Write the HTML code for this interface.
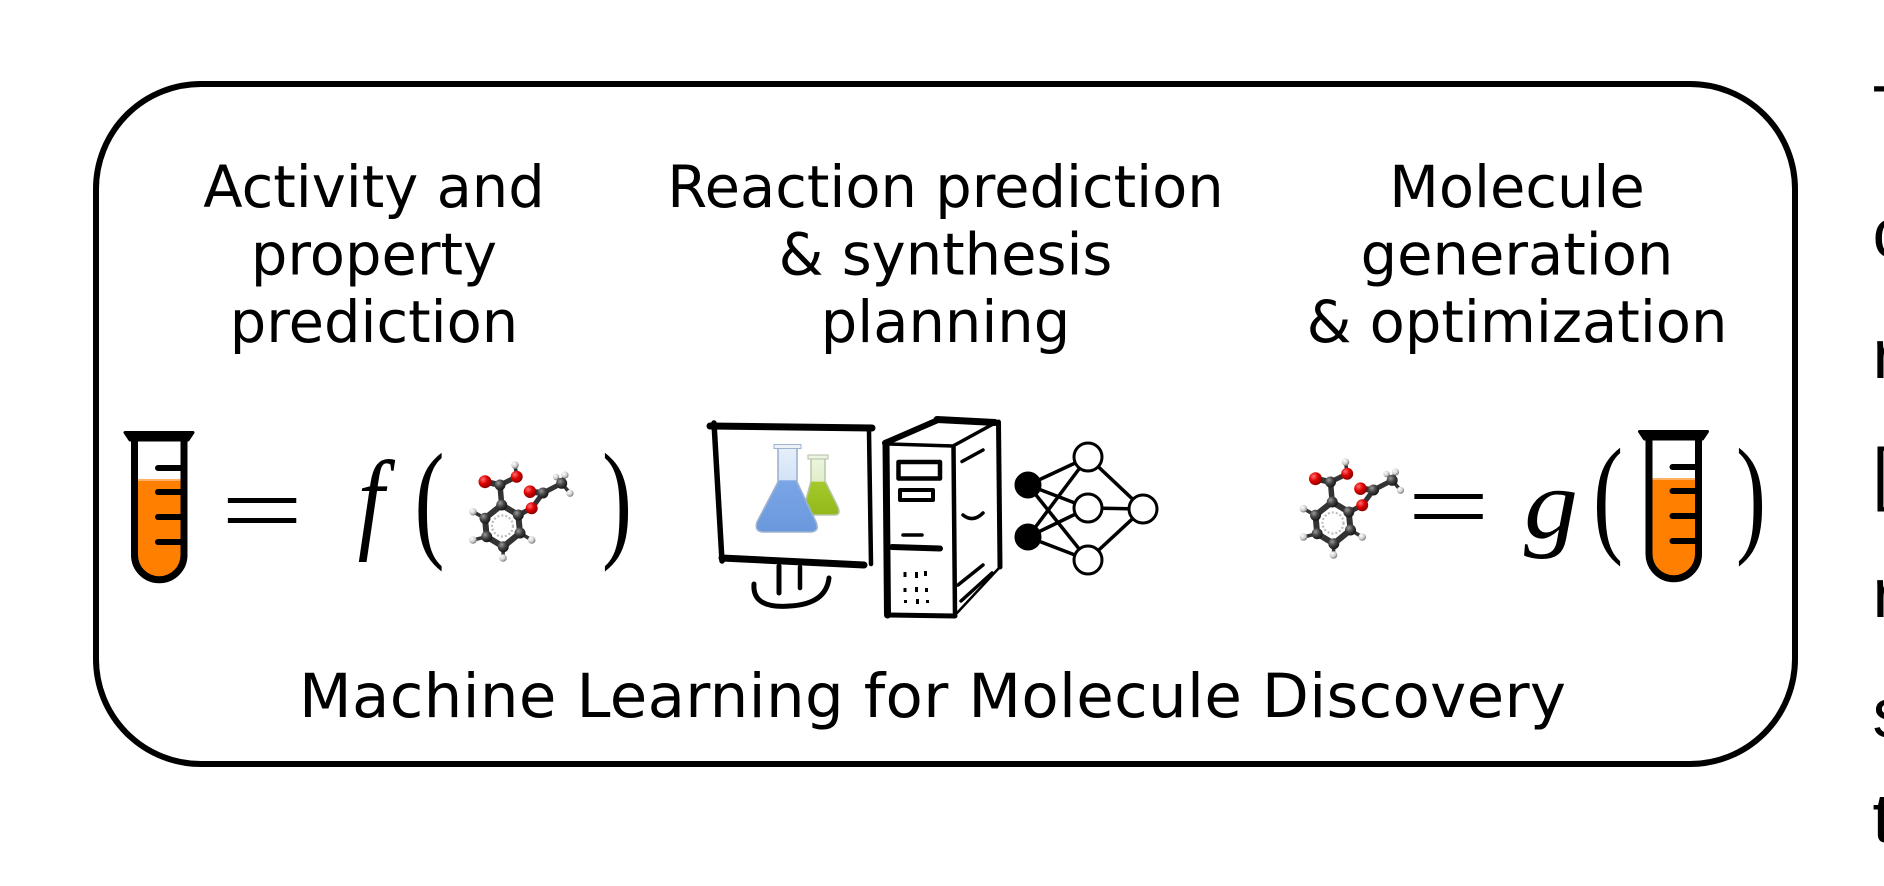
<!DOCTYPE html>
<html><head><meta charset="utf-8"><style>
html,body{margin:0;padding:0;background:#fff;width:1884px;height:886px;overflow:hidden}
svg{display:block}
.t{font-family:"DejaVu Sans","Liberation Sans",sans-serif;fill:#000}
.m{font-family:"Liberation Serif",serif;fill:#000}
.r{font-family:"Liberation Sans",sans-serif;fill:#000;font-size:70px}
</style></head><body>
<svg width="1884" height="886" viewBox="0 0 1884 886" xmlns="http://www.w3.org/2000/svg">
<defs>
<radialGradient id="gc" cx="35%" cy="32%" r="70%"><stop offset="0" stop-color="#9a9a9a"/><stop offset="0.5" stop-color="#444"/><stop offset="1" stop-color="#151515"/></radialGradient>
<radialGradient id="go" cx="35%" cy="32%" r="70%"><stop offset="0" stop-color="#ff7070"/><stop offset="0.5" stop-color="#e00000"/><stop offset="1" stop-color="#8a0000"/></radialGradient>
<radialGradient id="gh" cx="35%" cy="32%" r="70%"><stop offset="0" stop-color="#ffffff"/><stop offset="0.6" stop-color="#d0d0d0"/><stop offset="1" stop-color="#7a7a7a"/></radialGradient>
<linearGradient id="fb" x1="0" y1="0" x2="0" y2="1"><stop offset="0" stop-color="#e6eff9"/><stop offset="0.38" stop-color="#d3e3f6"/><stop offset="0.39" stop-color="#7aa6e8"/><stop offset="1" stop-color="#6b97dc"/></linearGradient>
<linearGradient id="fg" x1="0" y1="0" x2="0" y2="1"><stop offset="0" stop-color="#eef5e0"/><stop offset="0.41" stop-color="#e0edc8"/><stop offset="0.42" stop-color="#a5c92a"/><stop offset="1" stop-color="#92b81a"/></linearGradient>
</defs>
<rect width="1884" height="886" fill="#fff"/>

<!-- main rounded box -->
<rect x="96" y="84" width="1699" height="680" rx="105" ry="105" fill="none" stroke="#000" stroke-width="6"/>

<!-- titles -->
<g class="t" font-size="57.5" text-anchor="middle">
<text x="374" y="207">Activity and</text>
<text x="374" y="274.5">property</text>
<text x="374" y="342">prediction</text>
<text x="945.5" y="207">Reaction prediction</text>
<text x="945.5" y="274.5">&amp; synthesis</text>
<text x="945.5" y="342">planning</text>
<text x="1517" y="207">Molecule</text>
<text x="1517" y="274.5">generation</text>
<text x="1517" y="342">&amp; optimization</text>
</g>
<text class="t" x="299" y="717" font-size="61" textLength="1267" lengthAdjust="spacing">Machine Learning for Molecule Discovery</text>

<!-- test tube (left) -->
<g id="tube">
<path d="M134.5 440 L184 440 L184 555 A24.75 24.75 0 0 1 134.5 555 Z" fill="#fff"/>
<path d="M134.5 479 L184 479 L184 555 A24.75 24.75 0 0 1 134.5 555 Z" fill="#ff8000"/>
<line x1="138" y1="480" x2="181" y2="480" stroke="#ffb266" stroke-width="2"/>
<g stroke="#000" stroke-width="6" stroke-linecap="round">
<line x1="158" y1="468" x2="182" y2="468"/>
<line x1="158" y1="492" x2="182" y2="492"/>
<line x1="158" y1="517" x2="182" y2="517"/>
<line x1="158" y1="542" x2="182" y2="542"/>
</g>
<path d="M134.5 438 L134.5 555 A24.75 24.75 0 0 0 184 555 L184 438" fill="none" stroke="#000" stroke-width="7" stroke-linejoin="round"/>
<path d="M125 432.5 L193 432.5 L188 440 L130 440 Z" fill="#000" stroke="#000" stroke-width="3" stroke-linejoin="round"/>
</g>

<!-- left formula -->
<text class="m" transform="translate(262,543.7) scale(1.47,1)" font-size="100" text-anchor="middle">=</text>
<text class="m" transform="translate(371,538) scale(0.85,1)" font-size="112" font-style="italic" text-anchor="middle">f</text>
<text class="m" transform="translate(429.5,543.6) scale(0.9,1.31)" font-size="100" text-anchor="middle">(</text>
<text class="m" transform="translate(617,543.6) scale(0.9,1.31)" font-size="100" text-anchor="middle">)</text>

<!-- molecule (left) -->
<g id="mol">
<g stroke="#333" stroke-linecap="round" fill="none">
<line x1="500" y1="485" x2="516.7" y2="476.7" stroke-width="5"/>
<line x1="500" y1="485" x2="485" y2="481.7" stroke-width="6"/>
<line x1="516.7" y1="476.7" x2="515" y2="465" stroke-width="3.5"/>
<line x1="500" y1="485" x2="501.7" y2="505" stroke-width="5.5"/>
<polygon points="501.7,505 518.3,515 520,533 503.3,546.7 486.7,536.7 485,518.3" stroke-width="6" stroke-linejoin="round"/>
<line x1="518.3" y1="515" x2="531.7" y2="508.3" stroke-width="5"/>
<line x1="531.7" y1="508.3" x2="543" y2="493" stroke-width="5"/>
<line x1="543" y1="493" x2="530" y2="491.7" stroke-width="6"/>
<line x1="543" y1="493" x2="561.7" y2="483.3" stroke-width="5"/>
<line x1="561.7" y1="483.3" x2="565" y2="475" stroke-width="3.5"/>
<line x1="561.7" y1="483.3" x2="570" y2="493.3" stroke-width="3.5"/>
<line x1="561.7" y1="483.3" x2="556" y2="477" stroke-width="3.5"/>
<line x1="485" y1="518.3" x2="473" y2="511.7" stroke-width="3.5"/>
<line x1="486.7" y1="536.7" x2="473" y2="540" stroke-width="3.5"/>
<line x1="503.3" y1="546.7" x2="503" y2="558" stroke-width="3.5"/>
<line x1="520" y1="533" x2="531.7" y2="540" stroke-width="3.5"/>
</g>
<circle cx="502.5" cy="526" r="10.5" fill="none" stroke="#bdbdbd" stroke-width="2.2" stroke-dasharray="2 2"/>
<g fill="url(#gh)">
<circle cx="515" cy="465" r="3.8"/>
<circle cx="473" cy="511.7" r="3.8"/>
<circle cx="473" cy="540" r="3.8"/>
<circle cx="503" cy="558" r="3.8"/>
<circle cx="531.7" cy="540" r="3.8"/>
<circle cx="565" cy="475" r="3.6"/>
<circle cx="570" cy="493.3" r="3.6"/>
<circle cx="556" cy="477" r="3.2"/>
</g>
<g fill="url(#gc)">
<circle cx="500" cy="485" r="5.5"/>
<circle cx="501.7" cy="505" r="5.5"/>
<circle cx="518.3" cy="515" r="5.5"/>
<circle cx="520" cy="533" r="5.5"/>
<circle cx="503.3" cy="546.7" r="5.5"/>
<circle cx="486.7" cy="536.7" r="5.5"/>
<circle cx="485" cy="518.3" r="5.5"/>
<circle cx="543" cy="493" r="5.5"/>
<circle cx="561.7" cy="483.3" r="5.5"/>
</g>
<g fill="url(#go)">
<circle cx="516.7" cy="476.7" r="6"/>
<circle cx="485" cy="481.7" r="6.5"/>
<circle cx="531.7" cy="508.3" r="6"/>
<circle cx="530" cy="491.7" r="6.3"/>
</g>
</g>

<!-- monitor -->
<g stroke="#000" fill="none" stroke-linecap="round" stroke-linejoin="round">
<path d="M710 426 L872 428" stroke-width="7"/>
<path d="M714 423 L722 561" stroke-width="5.5"/>
<path d="M722 558 L864 565" stroke-width="7"/>
<path d="M869 431 L871 564" stroke-width="4.5"/>
<path d="M779 566 L779 593" stroke-width="5"/>
<path d="M800 567 L800 588" stroke-width="4.5"/>
<path d="M754 584 Q 752 609 790 606 Q 826 604 829 578" stroke-width="5"/>
</g>
<!-- flasks -->
<path d="M811 458 L811 481 L804 507 Q 802 515 809 515 L835 515 Q 841 515 838 507 L825 481 L825 458 Z" fill="url(#fg)" stroke="#b7c7a8" stroke-width="1.5"/>
<rect x="808" y="455" width="20" height="4" fill="#eef3e6" stroke="#b0bfa0" stroke-width="1"/>
<path d="M778 448 L778 482 L757 522 Q 754 532 764 532 L810 532 Q 820 532 816 522 L797 482 L797 448 Z" fill="url(#fb)" stroke="#9db3cf" stroke-width="1.6"/>
<rect x="774" y="444.5" width="27" height="4" fill="#eef3fa" stroke="#9db3cf" stroke-width="1"/>

<!-- tower -->
<g stroke="#000" fill="none" stroke-linecap="round" stroke-linejoin="round">
<path d="M885 443 L938 420" stroke-width="6"/>
<path d="M937 419.5 L995 422.5" stroke-width="7"/>
<path d="M887 444 L953 446" stroke-width="3.5"/>
<path d="M953 446 L995 423" stroke-width="3.5"/>
<path d="M886 443 L887.5 615" stroke-width="7"/>
<path d="M953.5 447 L955 615" stroke-width="4.5"/>
<path d="M887 615 L955 616" stroke-width="5"/>
<path d="M998.5 422 L1000 567" stroke-width="5"/>
<path d="M958 585 L983 565" stroke-width="3.5"/>
<path d="M961 601 L992 573" stroke-width="3.5"/>
<path d="M957 613 L999 568" stroke-width="2.5"/>
<path d="M962 461.5 L983 450" stroke-width="3.5"/>
<path d="M963 515 Q 973 523 983 513" stroke-width="3.5"/>
<rect x="898.5" y="462" width="41.5" height="16.5" stroke-width="4.5"/>
<rect x="900" y="490" width="33" height="10" stroke-width="4"/>
<path d="M903 535 L922 535" stroke-width="3.5"/>
<path d="M892 547 L940 548.5" stroke-width="6"/>
</g>
<g fill="#000">
<rect x="903.5" y="572" width="3" height="5"/><rect x="915" y="572" width="3" height="6"/><rect x="924" y="571" width="3" height="5"/>
<rect x="903.5" y="588" width="3" height="4"/><rect x="915" y="587" width="3" height="5"/><rect x="925" y="588" width="3" height="4"/>
<rect x="904" y="600" width="3" height="3"/><rect x="916" y="599" width="3" height="5"/><rect x="926" y="600" width="3" height="3"/>
</g>

<!-- neural net -->
<g stroke="#000" stroke-width="3.5" fill="none">
<line x1="1028" y1="485" x2="1088" y2="457"/>
<line x1="1028" y1="485" x2="1088" y2="508"/>
<line x1="1028" y1="485" x2="1088" y2="560"/>
<line x1="1028" y1="537" x2="1088" y2="457"/>
<line x1="1028" y1="537" x2="1088" y2="508"/>
<line x1="1028" y1="537" x2="1088" y2="560"/>
<line x1="1088" y1="457" x2="1143" y2="509"/>
<line x1="1088" y1="508" x2="1143" y2="509"/>
<line x1="1088" y1="560" x2="1143" y2="509"/>
</g>
<g stroke="#000" stroke-width="3">
<circle cx="1028" cy="485" r="12" fill="#000"/>
<circle cx="1028" cy="537" r="12" fill="#000"/>
<circle cx="1088" cy="457" r="14" fill="#fff"/>
<circle cx="1088" cy="508" r="14" fill="#fff"/>
<circle cx="1088" cy="560" r="14" fill="#fff"/>
<circle cx="1143" cy="509" r="14" fill="#fff"/>
</g>

<!-- right formula -->
<use href="#mol" transform="translate(830.5,-3)"/>
<text class="m" transform="translate(1448.5,539.7) scale(1.47,1)" font-size="100" text-anchor="middle">=</text>
<text class="m" transform="translate(1551,538) scale(1.08,1)" font-size="100" font-style="italic" text-anchor="middle">g</text>
<text class="m" transform="translate(1608,538.6) scale(0.9,1.31)" font-size="100" text-anchor="middle">(</text>
<use href="#tube" transform="translate(1514.5,-1)"/>
<text class="m" transform="translate(1751,538.6) scale(0.9,1.31)" font-size="100" text-anchor="middle">)</text>

<!-- cut-off body text at right edge -->
<text class="r" x="1872.5" y="134">T</text>
<text class="r" x="1872.5" y="257">c</text>
<text class="r" x="1872.5" y="378">r</text>
<text class="r" x="1872.5" y="497">[</text>
<text class="r" x="1872.5" y="617">r</text>
<text class="r" x="1872.5" y="737">s</text>
<text class="r" x="1872.5" y="842">t</text>
</svg>
</body></html>
